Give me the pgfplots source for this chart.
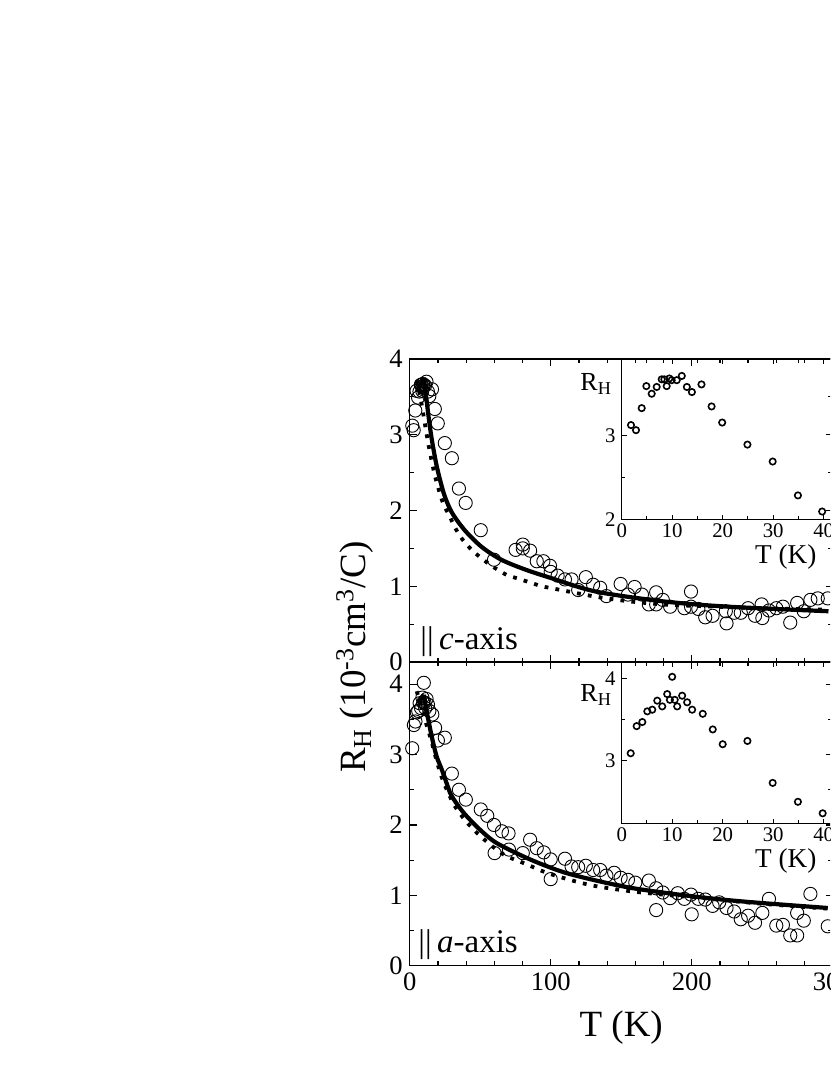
\documentclass[border=0pt]{standalone}
\usepackage{fontspec}
\setmainfont{Liberation Serif}
\usepackage{pgfplots}
\usepackage{pgfplotstable}
\pgfplotsset{compat=1.18}

% R_H data, c-axis (upper) and a-axis (lower), T in K, R_H in 1e-3 cm^3/C
\pgfplotstableread{
T R
1.84 3.12
2.83 3.06
3.96 3.32
4.88 3.58
5.94 3.49
6.93 3.57
7.92 3.66
8.44 3.66
8.91 3.58
9.43 3.67
9.9 3.65
10.9 3.65
11.9 3.70
12.9 3.57
13.9 3.51
15.8 3.60
17.8 3.34
19.9 3.15
24.9 2.89
29.9 2.69
34.9 2.29
39.7 2.10
}\clow

\pgfplotstableread{
T R
50.4 1.74
59.8 1.35
75.1 1.48
80.2 1.55
80.2 1.50
85.4 1.47
90.1 1.33
94.8 1.33
99.5 1.27
100 1.19
104.9 1.14
110.1 1.09
114.8 1.09
119.5 0.95
124.9 1.12
130.1 1.02
135.1 0.98
139.5 0.87
149.6 1.03
154.8 0.89
159.5 0.99
164.7 0.89
169.6 0.76
174.8 0.92
174.8 0.76
179.5 0.82
184.7 0.73
194.8 0.71
199.5 0.93
199.5 0.73
204.7 0.70
209.6 0.59
214.8 0.61
224.2 0.67
224.7 0.51
230.1 0.65
234.8 0.65
240 0.71
244.9 0.61
249.6 0.76
250.1 0.58
254.8 0.68
260 0.71
264.7 0.73
269.9 0.52
274.8 0.78
279.5 0.67
284.2 0.82
289.4 0.84
296.5 0.84
}\chigh

\pgfplotstableread{
T R
1.78 3.09
2.96 3.42
4.08 3.47
5.07 3.60
6.05 3.62
7.04 3.73
8.03 3.66
9.01 3.81
9.54 3.74
10.0 4.02
10.5 3.74
10.99 3.66
11.97 3.79
12.96 3.71
13.95 3.62
16.05 3.57
18.03 3.38
20.0 3.20
24.9 3.24
29.9 2.73
34.9 2.50
39.8 2.36
}\alow

\pgfplotstableread{
T R
50.4 2.22
55 2.13
59.8 2.00
60.2 1.60
65.4 1.91
70.1 1.88
70.4 1.65
80.2 1.60
85.4 1.79
90.1 1.67
95.1 1.61
100 1.51
100 1.23
110.1 1.52
114.8 1.41
119.5 1.40
124.9 1.42
130.1 1.36
135.1 1.36
139.5 1.28
145 1.32
149.6 1.25
154.8 1.22
160 1.18
169.6 1.21
174.8 1.10
174.8 0.79
179.5 1.04
184.7 0.96
190.1 1.03
194.8 0.95
199.5 1.01
200 0.73
204.7 0.95
209.6 0.94
214.8 0.85
219.5 0.90
224.7 0.82
230.1 0.77
234.8 0.66
240 0.71
244.9 0.61
250.1 0.75
254.8 0.95
260 0.57
264.7 0.58
269.9 0.43
274.8 0.75
274.8 0.43
279.5 0.64
284.2 1.02
296.5 0.56
}\ahigh

\pgfplotsset{
  mainax/.style={
    scale only axis, width=211.5pt,
    xmin=0, xmax=300, ymin=0,
    xtick={0,100,200,300}, minor x tick num=4,
    ytick={0,1,2,3,4}, minor y tick num=1,
    tick align=inside, major tick length=3.5pt, minor tick length=2.2pt,
    axis line style={line width=0.6pt},
    every tick/.style={line width=0.6pt, black},
    tick label style={font=\fontsize{13.3}{14}\selectfont},
    /pgf/number format/assume math mode=true,
    clip=false,
  },
  inax/.style={
    scale only axis, width=164.1pt,
    xmin=0, xmax=65,
    xtick={0,10,20,30,40,50,60}, minor x tick num=1,
    minor y tick num=1,
    tick align=inside, major tick length=2.5pt, minor tick length=1.8pt,
    axis line style={line width=0.5pt},
    every tick/.style={line width=0.5pt, black},
    tick label style={font=\fontsize{10.4}{11}\selectfont},
    xticklabel style={yshift=1.5pt},
    yticklabel style={xshift=0.5pt},
    /pgf/number format/assume math mode=true,
    xlabel={T (K)},
    xlabel style={at={(axis description cs:0.5,0)}, anchor=center,
      yshift=-18.5pt, font=\fontsize{13.6}{14}\selectfont},
    clip=false,
  },
  bigo/.style={only marks, mark=o, mark size=3.3pt,
    mark options={line width=0.45pt, black}},
  smallo/.style={only marks, mark=o, mark size=1.6pt,
    mark options={line width=0.8pt, black}},
  fit/.style={black, line width=2.1pt, line join=round},
  dots/.style={black, line width=1.9pt, smooth,
    dash pattern=on 1.9pt off 3.6pt},
}

\begin{document}
\begin{tikzpicture}
\path[use as bounding box] (0,0) rectangle (415pt,537.5pt);
\clip (0,0) rectangle (415pt,537.5pt);

% upper panel: c-axis
\begin{axis}[mainax, at={(204.85pt,206.5pt)}, anchor=south west,
  height=151.5pt, ymax=4, xticklabels={}]
  \addplot[bigo] table {\clow};
  \addplot[bigo] table {\chigh};
  \addplot[fit] coordinates {(5.7,3.57) (10.1,3.75)};
  \addplot[fit, smooth, tension=0.5] coordinates {
    (10.1,3.75) (12,3.45) (14,3.15) (16,2.90) (19,2.60) (22,2.37)
    (25,2.18) (30,1.97) (39,1.74) (51,1.52) (65,1.35) (82,1.22)
    (100,1.11) (132,0.93) (180,0.80) (226,0.73) (297,0.67)};
  \addplot[dots] coordinates {
    (5,3.72) (8,3.45) (11,3.12) (13,2.90) (15.6,2.65) (18,2.45)
    (21,2.25) (24,2.08) (27.9,1.94) (32,1.78) (36.9,1.63) (44,1.48)
    (52.2,1.35) (60.5,1.24) (68.8,1.15) (77,1.10) (85.3,1.05)
    (93.6,1.00) (101.8,0.97) (132.5,0.86) (156,0.80) (180,0.76)
    (203,0.74) (250,0.71) (297,0.69)};
\end{axis}

% lower panel: a-axis
\begin{axis}[mainax, at={(204.85pt,54.65pt)}, anchor=south west,
  height=152pt, ymax=4.32,
  xlabel={T (K)},
  xlabel style={at={(axis description cs:0.5,0)}, anchor=center,
    yshift=-31pt, font=\fontsize{18.5}{19}\selectfont}]
  \addplot[bigo] table {\alow};
  \addplot[bigo] table {\ahigh};
  \addplot[fit] coordinates {(6.1,3.74) (10.1,3.85)};
  \addplot[fit, smooth, tension=0.5] coordinates {
    (10.1,3.85) (12,3.62) (15.6,3.26) (19,2.98) (22.7,2.79) (26.6,2.57)
    (29.8,2.41) (38.4,2.17) (50,1.93) (61.9,1.74) (85.4,1.51) (108.9,1.33)
    (132.2,1.21) (155.8,1.11) (179.5,1.04) (203,0.98) (226.6,0.93)
    (250,0.89) (296.5,0.82)};
  \addplot[dots] coordinates {
    (5,3.90) (10,3.55) (15,3.22) (19,2.92) (22,2.72) (25,2.56) (28,2.43)
    (31.6,2.28) (40,2.05) (51.3,1.82) (66.6,1.58) (83.1,1.44) (97.2,1.32)
    (117.2,1.20) (132.2,1.13) (155.8,1.06) (179.5,1.01) (203,0.97)
    (250,0.88) (297,0.81)};
\end{axis}

% insets
\begin{axis}[inax, at={(310.85pt,277.5pt)}, anchor=south west,
  height=80.5pt, ymin=2, ymax=3.9, ytick={2,3}]
  \addplot[smallo] table {\clow};
\end{axis}
\begin{axis}[inax, at={(310.85pt,125.5pt)}, anchor=south west,
  height=81pt, ymin=2.23, ymax=4.2, ytick={3,4}]
  \addplot[smallo] table {\alow};
\end{axis}

% labels
\node[rotate=90, font=\fontsize{18.5}{19}\selectfont] at (177.5pt,209pt)
  {R\textsubscript{H} (10\textsuperscript{-3}cm\textsuperscript{3}/C)};
\node[anchor=base west, inner sep=0pt, font=\fontsize{16.5}{17}\selectfont]
  at (210pt,212.5pt) {||\,\textit{c}-axis};
\node[anchor=base west, inner sep=0pt, font=\fontsize{16.5}{17}\selectfont]
  at (209pt,61pt) {||\,\textit{a}-axis};
\node[anchor=base west, inner sep=0pt, font=\fontsize{13}{14}\selectfont]
  at (290pt,342pt) {R\textsubscript{H}};
\node[anchor=base west, inner sep=0pt, font=\fontsize{13}{14}\selectfont]
  at (290pt,186.5pt) {R\textsubscript{H}};
\end{tikzpicture}
\end{document}
